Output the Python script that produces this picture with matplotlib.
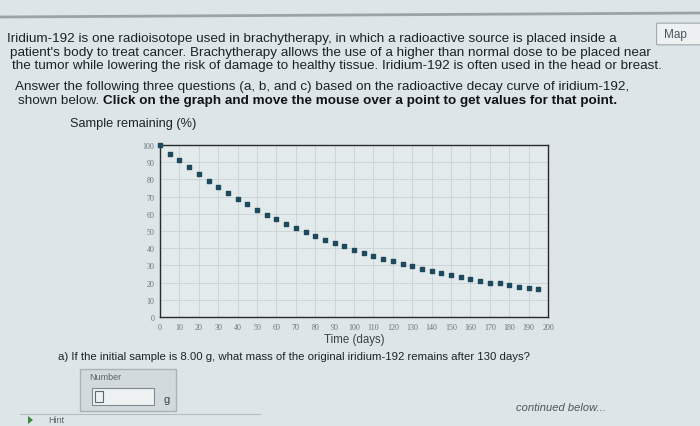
import matplotlib
matplotlib.use("Agg")
import matplotlib.pyplot as plt
from matplotlib.patches import Rectangle, FancyBboxPatch, Polygon

# ---- data ----
days = [0, 5, 10, 15, 20, 25, 30, 35, 40, 45, 50, 55, 60, 65, 70, 75, 80, 85, 90, 95,
        100, 105, 110, 115, 120, 125, 130, 135, 140, 145, 150, 155, 160, 165, 170, 175,
        180, 185, 190, 195]
remaining = [100, 95, 91, 87, 83, 79, 75.5, 72, 68.5, 65.5, 62.5, 59.5, 57, 54, 52,
             49.5, 47, 45, 43, 41, 39, 37, 35.5, 34, 32.5, 31, 29.5, 28, 27, 25.5,
             24.5, 23, 22, 21, 20, 19.5, 18.5, 17.5, 17, 16]
x_ticks = list(range(0, 201, 10))
y_ticks = list(range(0, 101, 10))

intro_lines = [
    "Iridium-192 is one radioisotope used in brachytherapy, in which a radioactive source is placed inside a",
    "patient's body to treat cancer. Brachytherapy allows the use of a higher than normal dose to be placed near",
    "the tumor while lowering the risk of damage to healthy tissue. Iridium-192 is often used in the head or breast.",
]
answer_line1 = "Answer the following three questions (a, b, and c) based on the radioactive decay curve of iridium-192,"
answer_line2a = "shown below. "
answer_line2b = "Click on the graph and move the mouse over a point to get values for that point."
question_a = "a) If the initial sample is 8.00 g, what mass of the original iridium-192 remains after 130 days?"

W, H = 700, 427
fig = plt.figure(figsize=(7, 4.27), dpi=100)
fig.patch.set_facecolor("#dde5e8")

def fx(px):
    return px / W

def fy(py):
    return 1 - py / H

sans = "Liberation Sans"
txt_col = "#1c2328"
fs = 9.7

# top frame line
fig.add_artist(plt.Line2D([0, 1], [fy(18), fy(14)], color="#9aa3a8", lw=2))

# Map button
fig.add_artist(FancyBboxPatch((fx(658), fy(45)), fx(42), 20 / H,
                              boxstyle="round,pad=0.002", fc="#eef1f2", ec="#a0a8ad", lw=0.8))
fig.text(fx(664), fy(35), "Map", fontsize=8.5, family=sans, color="#4a5560", va="center")

# intro text
for i, (line, x0) in enumerate(zip(intro_lines, [7, 10, 12])):
    fig.text(fx(x0), fy(39 + 13.6 * i), line, fontsize=fs, family=sans, color=txt_col, va="center")

fig.text(fx(15), fy(87), answer_line1, fontsize=fs, family=sans, color=txt_col, va="center")
t2 = fig.text(fx(18), fy(100.6), answer_line2a, fontsize=fs, family=sans, color=txt_col, va="center")
fig.add_artist(matplotlib.text.Annotation(answer_line2b, xy=(1, 0.5), xycoords=t2,
                                          va="center", ha="left", fontsize=fs,
                                          family=sans, color="#101418", weight="bold"))

fig.text(fx(70), fy(124), "Sample remaining (%)", fontsize=9.2, family=sans, color=txt_col, va="center")

# ---- chart ----
left, right, top, bottom = 160, 548, 146, 318
ax = fig.add_axes([fx(left), fy(bottom), fx(right - left), (bottom - top) / H])
ax.set_facecolor("#e3eaec")
ax.scatter(days, remaining, marker="s", s=10, color="#1d4a5c", zorder=3, clip_on=False)
ax.set_xlim(0, 200)
ax.set_ylim(0, 100)
ax.set_xticks(x_ticks)
ax.set_yticks(y_ticks)
ax.grid(True, color="#c9d1d4", lw=0.6)
ax.set_axisbelow(True)
for s in ax.spines.values():
    s.set_color("#2a2a2a")
    s.set_linewidth(1.0)
ax.tick_params(length=0, pad=4, labelsize=5.8, labelcolor="#6b7478")
for lab in ax.get_xticklabels() + ax.get_yticklabels():
    lab.set_family("Liberation Serif")
ax.set_xlabel("Time (days)", fontsize=8.3, family=sans, color="#3a4348", labelpad=2)

# ---- question area ----
fig.text(fx(58), fy(357), question_a, fontsize=8.2, family=sans, color=txt_col, va="center")

fig.add_artist(Rectangle((fx(80), fy(412)), fx(96), 42 / H, fc="#d3dadd", ec="#a9b2b6", lw=1))
fig.text(fx(89), fy(378), "Number", fontsize=6.5, family=sans, color="#5a646a", va="center")
fig.add_artist(Rectangle((fx(92), fy(406)), fx(62), 17 / H, fc="#eef2f3", ec="#7f8a90", lw=0.8))
fig.add_artist(Rectangle((fx(95), fy(403)), fx(8), 11 / H, fc="none", ec="#5a6a72", lw=0.8))
fig.text(fx(163), fy(400), "g", fontsize=8, family=sans, color="#3a4348", va="center")

fig.text(fx(516), fy(408), "continued below...", fontsize=8, family=sans, style="italic",
         color="#4a5560", va="center")

fig.add_artist(Polygon([[fx(28), fy(417)], [fx(28), fy(425)], [fx(33), fy(421)]],
                       closed=True, fc="#3a8a3a", ec="none"))
fig.text(fx(48), fy(421), "Hint", fontsize=6.5, family=sans, color="#5a646a", va="center")
fig.add_artist(plt.Line2D([fx(20), fx(260)], [fy(415), fy(415)], color="#b5bdc1", lw=0.8))

fig.savefig("out.png", dpi=100, facecolor=fig.get_facecolor())
